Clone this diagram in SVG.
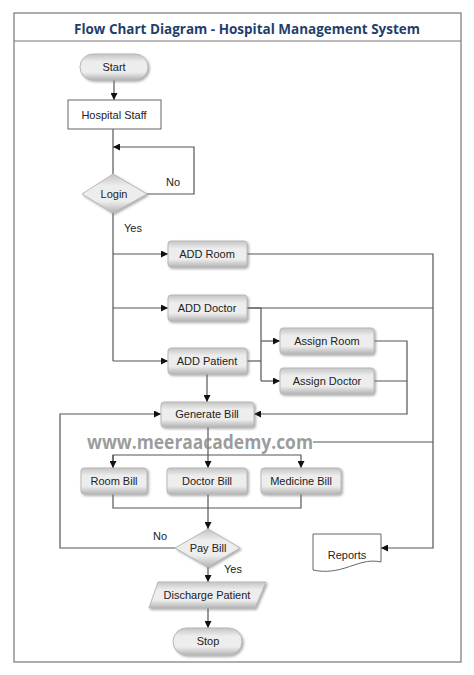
<svg xmlns="http://www.w3.org/2000/svg" width="474" height="675" viewBox="0 0 474 675">
<defs>
<style>
.t{font-family:"Liberation Sans",Arial,sans-serif;font-size:11px;fill:#222;text-anchor:middle;dominant-baseline:central}
.c{fill:none;stroke:#555;stroke-width:1.2}
.n{fill:url(#g);stroke:#b8b8b8;stroke-width:1;filter:url(#sh)}
</style>
<linearGradient id="g" x1="0" y1="0" x2="0" y2="1">
<stop offset="0" stop-color="#c4c4c4"/>
<stop offset="0.3" stop-color="#ededed"/>
<stop offset="0.7" stop-color="#ededed"/>
<stop offset="1" stop-color="#b4b4b4"/>
</linearGradient>
<filter id="sh" x="-20%" y="-30%" width="140%" height="160%">
<feDropShadow dx="1.5" dy="1.5" stdDeviation="1" flood-color="#777" flood-opacity="0.6"/>
</filter>
<marker id="a" viewBox="0 0 10 10" refX="10" refY="5" markerWidth="7" markerHeight="7" orient="auto" markerUnits="userSpaceOnUse">
<path d="M0,0 L10,5 L0,10 Z" fill="#111"/>
</marker>
</defs>
<rect x="0" y="0" width="474" height="675" fill="#fff"/>
<rect x="14" y="13" width="447" height="649" fill="#fff" stroke="#777" stroke-width="1.2"/>
<line x1="14" y1="41" x2="461" y2="41" stroke="#777" stroke-width="1.2"/>
<text x="247" y="28" font-family="'Open Sans','Liberation Sans',sans-serif" font-weight="bold" font-size="15" fill="#1F3F6E" text-anchor="middle" dominant-baseline="central" textLength="346" lengthAdjust="spacingAndGlyphs">Flow Chart Diagram - Hospital Management System</text>

<g id="connectors">
<path class="c" d="M114,80 V100" marker-end="url(#a)"/>
<path class="c" d="M113,129 V174"/>
<path class="c" d="M147,194 H194 V147 H113" marker-end="url(#a)"/>
<path class="c" d="M113,213 V361"/>
<path class="c" d="M113,254 H168" marker-end="url(#a)"/>
<path class="c" d="M113,308 H168" marker-end="url(#a)"/>
<path class="c" d="M113,361 H168" marker-end="url(#a)"/>
<path class="c" d="M247,254 H433 V548 H381" marker-end="url(#a)"/>
<path class="c" d="M247,308 H433"/>
<path class="c" d="M313,442 H433"/>
<path class="c" d="M247,308 H261 V381"/>
<path class="c" d="M247,361 H261"/>
<path class="c" d="M261,341 H280" marker-end="url(#a)"/>
<path class="c" d="M261,381 H280" marker-end="url(#a)"/>
<path class="c" d="M374,341 H407 V414 H254" marker-end="url(#a)"/>
<path class="c" d="M374,381 H407"/>
<path class="c" d="M207,374 V402" marker-end="url(#a)"/>
<path class="c" d="M208,427 V468" marker-end="url(#a)"/>
<path class="c" d="M113,468 V455 H301 V468" marker-end="url(#a)"/>
<path class="c" d="M113,455 V468" marker-end="url(#a)"/>
<path class="c" d="M113,494 V508 H301 V494"/>
<path class="c" d="M208,494 V529" marker-end="url(#a)"/>
<path class="c" d="M175,548 H60 V414 H161" marker-end="url(#a)"/>
<path class="c" d="M208,567 V582" marker-end="url(#a)"/>
<path class="c" d="M208,608 V628" marker-end="url(#a)"/>
</g>

<g id="start"><rect class="n" x="80" y="54" width="68" height="26" rx="13"/><text class="t" x="114" y="67">Start</text></g>
<g id="hospital-staff"><rect x="68" y="100" width="93" height="29" fill="#fff" stroke="#666" stroke-width="1"/><text class="t" x="114" y="115">Hospital Staff</text></g>
<g id="login"><polygon class="n" points="113,174 147,194 113,213 82,194"/><text class="t" x="114" y="194">Login</text></g>
<text class="t" x="173" y="182">No</text>
<text class="t" x="133" y="228">Yes</text>
<g id="add-room"><rect class="n" x="168" y="241" width="79" height="26" rx="3"/><text class="t" x="207" y="254">ADD Room</text></g>
<g id="add-doctor"><rect class="n" x="168" y="295" width="79" height="26" rx="3"/><text class="t" x="207" y="308">ADD Doctor</text></g>
<g id="add-patient"><rect class="n" x="168" y="348" width="79" height="26" rx="3"/><text class="t" x="207" y="361">ADD Patient</text></g>
<g id="assign-room"><rect class="n" x="280" y="328" width="94" height="26" rx="3"/><text class="t" x="327" y="341">Assign Room</text></g>
<g id="assign-doctor"><rect class="n" x="280" y="368" width="94" height="26" rx="3"/><text class="t" x="327" y="381">Assign Doctor</text></g>
<g id="generate-bill"><rect class="n" x="161" y="402" width="93" height="25" rx="3"/><text class="t" x="207" y="414">Generate Bill</text></g>
<text x="200" y="442" font-family="'Open Sans','DejaVu Sans',sans-serif" font-weight="bold" font-size="19" fill="#8a8a8a" fill-opacity="0.85" text-anchor="middle" dominant-baseline="central" textLength="226" lengthAdjust="spacingAndGlyphs">www.meeraacademy.com</text>
<g id="room-bill"><rect class="n" x="81" y="468" width="66" height="26" rx="3"/><text class="t" x="114" y="481">Room Bill</text></g>
<g id="doctor-bill"><rect class="n" x="167" y="468" width="80" height="26" rx="3"/><text class="t" x="207" y="481">Doctor Bill</text></g>
<g id="medicine-bill"><rect class="n" x="261" y="468" width="80" height="26" rx="3"/><text class="t" x="301" y="481">Medicine Bill</text></g>
<g id="pay-bill"><polygon class="n" points="208,529 240,548 208,567 175,548"/><text class="t" x="208" y="548">Pay Bill</text></g>
<text class="t" x="160" y="536">No</text>
<text class="t" x="233" y="569">Yes</text>
<g id="discharge-patient"><polygon class="n" points="158,582 266,582 255,608 149,608"/><text class="t" x="207" y="595">Discharge Patient</text></g>
<g id="stop"><rect class="n" x="173" y="628" width="69" height="27" rx="13.5"/><text class="t" x="208" y="641">Stop</text></g>
<g id="reports"><path d="M313,534 H381 V562 C368,559 358,564 345,568 C332,572 322,572 313,570 Z" fill="#fff" stroke="#666" stroke-width="1"/><text class="t" x="347" y="555">Reports</text></g>
</svg>
